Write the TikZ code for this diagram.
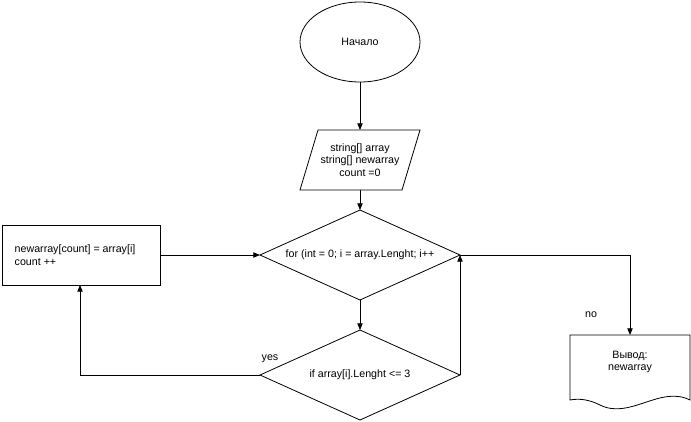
\documentclass[tikz,border=0pt]{standalone}
\usepackage{fontspec}
\setmainfont{Liberation Sans}
\usetikzlibrary{shapes.geometric,arrows.meta}
\begin{document}
\begin{tikzpicture}[x=0.75pt,y=-0.75pt,
  every node/.style={font=\fontsize{8}{9.5}\selectfont},
  ln/.style={draw=black,line width=0.6pt},
  arr/.style={ln,-{Triangle[length=5pt,width=4pt]}}]
\useasboundingbox (0,0) rectangle (691,421);
\draw[ln] (360,42) ellipse (60 and 40);
\node (start) at (360,42) {Начало};
\coordinate (startb) at (360,82);
\draw[ln] (318,130) -- (420,130) -- (402,190) -- (300,190) -- cycle;
\node[align=center] (io) at (360,160) {string[] array\\string[] newarray\\count =0};
\coordinate (iot) at (360,130); \coordinate (iob) at (360,190);
\draw[ln] (360,210) -- (460,255) -- (360,300) -- (260,255) -- cycle;
\node (d1) at (360,255) {for (int = 0; i = array.Lenght; i++};
\coordinate (d1t) at (360,210); \coordinate (d1b) at (360,300);
\coordinate (d1l) at (260,255); \coordinate (d1r) at (460,255);
\draw[ln] (360,330) -- (460,375) -- (360,420) -- (260,375) -- cycle;
\node (d2) at (360,375) {if array[i].Lenght <= 3};
\coordinate (d2t) at (360,330); \coordinate (d2l) at (260,375); \coordinate (d2r) at (460,375);
\draw[ln] (2,225) rectangle (160,285);
\node[align=left,anchor=west] (body) at (10,255) {newarray[count] = array[i]\\count ++};
\coordinate (bodyr) at (160,255); \coordinate (bodyb) at (80,285);
\draw[ln] (570,335) -- (690,335) -- (690,400) .. controls (660,385) and (630,420) .. (600,405) .. controls (590,400) and (580,398) .. (570,400) -- cycle;
\node[align=center] (out) at (630,362) {Вывод:\\newarray};
\coordinate (outt) at (630,335);
\draw[arr] (startb) -- (iot);
\draw[arr] (iob) -- (d1t);
\draw[arr] (d1b) -- (d2t);
\draw[arr] (bodyr) -- (d1l);
\draw[arr] (d2l) -- (80,375) -- (bodyb);
\draw[arr] (d2r) -- (d1r);
\draw[arr] (d1r) -- (630,255) -- (outt);
\node (yes) at (270,359) {yes};
\node (no) at (591,315) {no};
\end{tikzpicture}
\end{document}
